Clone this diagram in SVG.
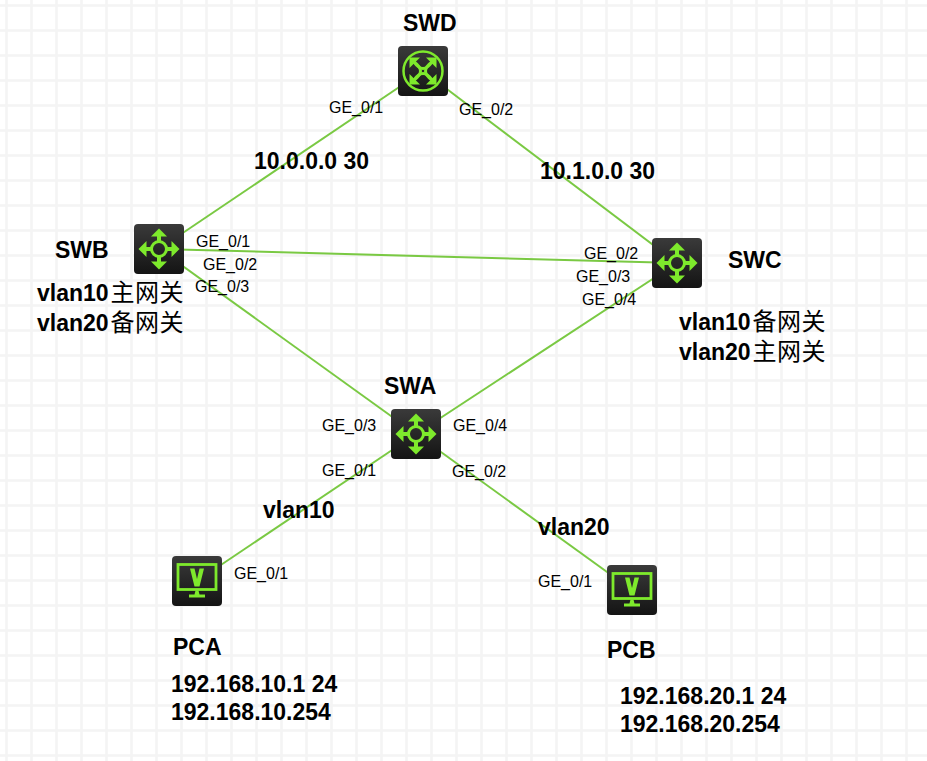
<svg xmlns="http://www.w3.org/2000/svg" xmlns:xlink="http://www.w3.org/1999/xlink" width="927" height="761" viewBox="0 0 927 761">
<style>
text{font-family:"Liberation Sans","Noto Sans CJK SC",sans-serif;fill:#000}
.p{font-size:16px}
.b{font-size:23px;font-weight:700}
.z{font-size:24px;font-weight:400;font-family:"Noto Sans CJK SC",sans-serif;letter-spacing:.5px}
.c{stroke:#7ac943;stroke-width:2;fill:none}
.g{stroke:#f4f4f4;stroke-width:2.500;fill:none}
.i{stroke:#7eea2c;fill:none}
.f{fill:#7eea2c}
</style>
<defs>
<linearGradient id="bg" x1="0" y1="0" x2="0" y2="1"><stop offset="0" stop-color="#3a3a3a"/><stop offset="1" stop-color="#141414"/></linearGradient>
<g id="arrow"><path class="f" d="M0-20.500L-8-12.500H-2V-8H2V-12.500H8Z"/></g>
<g id="router">
<rect x="-25" y="-25" width="50" height="50" rx="4" fill="url(#bg)"/>
<circle class="i" r="7.500" stroke-width="3"/>
<use xlink:href="#arrow" href="#arrow"/>
<use xlink:href="#arrow" href="#arrow" transform="rotate(90)"/>
<use xlink:href="#arrow" href="#arrow" transform="rotate(180)"/>
<use xlink:href="#arrow" href="#arrow" transform="rotate(270)"/>
</g>
<g id="xarm"><path class="f" d="M-13.500-13.500H-3L-13.500-3Z"/><path class="i" stroke-width="3" d="M-9-9Q4 0-9 9"/></g>
<g id="pc">
<rect x="-25" y="-25" width="50" height="50" rx="4" fill="url(#bg)"/>
<rect x="-19" y="-16.500" width="38" height="25" class="i" stroke-width="2.800"/>
<path class="f" d="M-7-12.500H-2.500L0-2L2.500-12.500H7L2.500 5.500H-2.500Z"/>
<path class="f" d="M-1.500 9.500H1.500L2.500 13.500H8V16.500H-8V13.500H-2.500Z"/>
</g>
</defs>
<rect width="927" height="761" fill="#fff"/>
<path class="g" d="M6.500 0V761M31.500 0V761M56.500 0V761M81.500 0V761M106.500 0V761M131.500 0V761M156.500 0V761M181.500 0V761M206.500 0V761M231.500 0V761M256.500 0V761M281.500 0V761M306.500 0V761M331.500 0V761M356.500 0V761M381.500 0V761M406.500 0V761M431.500 0V761M456.500 0V761M481.500 0V761M506.500 0V761M531.500 0V761M556.500 0V761M581.500 0V761M606.500 0V761M631.500 0V761M656.500 0V761M681.500 0V761M706.500 0V761M731.500 0V761M756.500 0V761M781.500 0V761M806.500 0V761M831.500 0V761M856.500 0V761M881.500 0V761M906.500 0V761"/>
<path class="g" d="M0 5.500H927M0 30.500H927M0 55.500H927M0 80.500H927M0 105.500H927M0 130.500H927M0 155.500H927M0 180.500H927M0 205.500H927M0 230.500H927M0 255.500H927M0 280.500H927M0 305.500H927M0 330.500H927M0 355.500H927M0 380.500H927M0 405.500H927M0 430.500H927M0 455.500H927M0 480.500H927M0 505.500H927M0 530.500H927M0 555.500H927M0 580.500H927M0 605.500H927M0 630.500H927M0 655.500H927M0 680.500H927M0 705.500H927M0 730.500H927M0 755.500H927"/>
<g id="connectors">
<path class="c" d="M423 71L159 249"/>
<path class="c" d="M423 71L677 263"/>
<path class="c" d="M159 249L677 263"/>
<path class="c" d="M159 249L416 434"/>
<path class="c" d="M677 263L416 434"/>
<path class="c" d="M416 434L197 581"/>
<path class="c" d="M416 434L632 590"/>
</g>
<g id="port-labels">
<text class="p" x="329" y="113">GE_0/1</text>
<text class="p" x="459" y="115">GE_0/2</text>
<text class="p" x="196" y="247">GE_0/1</text>
<text class="p" x="203" y="270">GE_0/2</text>
<text class="p" x="195" y="292">GE_0/3</text>
<text class="p" x="584" y="259">GE_0/2</text>
<text class="p" x="576" y="282">GE_0/3</text>
<text class="p" x="582" y="305">GE_0/4</text>
<text class="p" x="322" y="431">GE_0/3</text>
<text class="p" x="453" y="431">GE_0/4</text>
<text class="p" x="322" y="476">GE_0/1</text>
<text class="p" x="452" y="477">GE_0/2</text>
<text class="p" x="234" y="579">GE_0/1</text>
<text class="p" x="538" y="587">GE_0/1</text>
</g>
<g id="link-labels">
<text class="b" x="254" y="169">10.0.0.0 30</text>
<text class="b" x="540" y="179">10.1.0.0 30</text>
<text class="b" x="263" y="518">vlan10</text>
<text class="b" x="538" y="535">vlan20</text>
</g>
<g id="SWD">
<g transform="translate(423 71)">
<rect x="-25" y="-25" width="50" height="50" rx="4" fill="url(#bg)"/>
<circle class="i" r="19.500" stroke-width="2.500"/>
<use xlink:href="#xarm" href="#xarm"/>
<use xlink:href="#xarm" href="#xarm" transform="rotate(90)"/>
<use xlink:href="#xarm" href="#xarm" transform="rotate(180)"/>
<use xlink:href="#xarm" href="#xarm" transform="rotate(270)"/>
</g>
<text class="b" x="403" y="31">SWD</text>
</g>
<g id="SWB">
<use xlink:href="#router" href="#router" transform="translate(159 249)"/>
<text class="b" x="55" y="258">SWB</text>
<text class="b" x="37" y="301">vlan10<tspan class="z" dx="2">主网关</tspan></text>
<text class="b" x="37" y="331">vlan20<tspan class="z" dx="2">备网关</tspan></text>
</g>
<g id="SWC">
<use xlink:href="#router" href="#router" transform="translate(677 263)"/>
<text class="b" x="728" y="268">SWC</text>
<text class="b" x="679" y="330">vlan10<tspan class="z" dx="2">备网关</tspan></text>
<text class="b" x="679" y="360">vlan20<tspan class="z" dx="2">主网关</tspan></text>
</g>
<g id="SWA">
<use xlink:href="#router" href="#router" transform="translate(416 434)"/>
<text class="b" x="384" y="394">SWA</text>
</g>
<g id="PCA">
<use xlink:href="#pc" href="#pc" transform="translate(197 581)"/>
<text class="b" x="173" y="655">PCA</text>
<text class="b" x="171" y="692">192.168.10.1 24</text>
<text class="b" x="171" y="720">192.168.10.254</text>
</g>
<g id="PCB">
<use xlink:href="#pc" href="#pc" transform="translate(632 590)"/>
<text class="b" x="607" y="658">PCB</text>
<text class="b" x="620" y="704">192.168.20.1 24</text>
<text class="b" x="620" y="732">192.168.20.254</text>
</g>
</svg>
